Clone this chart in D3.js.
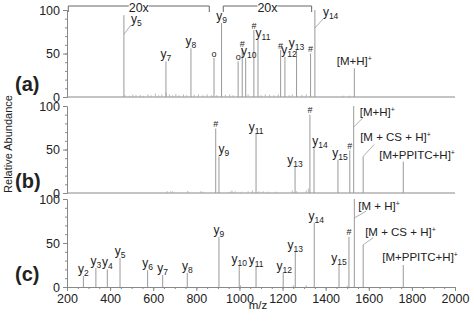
<!DOCTYPE html>
<html>
<head>
<meta charset="utf-8">
<script src="https://cdn.jsdelivr.net/npm/d3@7"></script>
<style>
  body { margin: 0; background: #fff; }
  text { font-family: Arial, "Liberation Sans", sans-serif; fill: #222; }
</style>
</head>
<body>
<svg id="chart" width="474" height="332"></svg>
<script>
// ---- data ----
const xTicks = [200, 400, 600, 800, 1000, 1200, 1400, 1600, 1800, 2000];
const xMinorTicks = d3.range(200, 2001, 50);
const yTicks = [0, 50, 100];
const yMinorTicks = [0, 10, 20, 30, 40, 50, 60, 70, 80, 90, 100];
const panelNames = ["(a)", "(b)", "(c)"];

// labelled peaks: [m/z, relative abundance, label]
const peaksA = [
  [464, 94, "y5"], [659, 41, "y7"], [775, 56, "y8"], [882, 45, "o"],
  [917, 85, "y9"], [994, 41, "o"], [1013, 56, "#"], [1029, 45, "y10"],
  [1067, 77, "#"], [1086, 66, "y11"], [1191, 54, "#"], [1211, 46, "y12"],
  [1265, 54, "y13"], [1330, 50, "#"], [1350, 100, "y14"], [1533, 33, "[M+H]+"]
];
const peaksB = [
  [890, 74, "#"], [905, 42, "y9"], [1077, 68, "y11"], [1258, 30, "y13"],
  [1327, 90, "#"], [1346, 52, "y14"], [1457, 38, "y15"], [1512, 49, "#"],
  [1530, 100, "[M+H]+"], [1574, 42, "[M + CS + H]+"], [1760, 36, "[M+PPITC+H]+"]
];
const peaksC = [
  [276, 12.5, "y2"], [334, 21.6, "y3"], [387, 20, "y4"], [446, 33, "y5"],
  [574, 19, "y6"], [644, 13.6, "y7"], [758, 16, "y8"], [905, 57, "y9"],
  [999, 24, "y10"], [1077, 23, "y11"], [1203, 16, "y12"], [1259, 40, "y13"],
  [1347, 73, "y14"], [1462, 25, "y15"], [1508, 57, "#"],
  [1533, 100, "[M + H]+"], [1574, 48, "[M + CS + H]+"], [1760, 25, "[M+PPITC+H]+"]
];

// small unlabelled background peaks: [m/z, relative abundance]
const noiseA = [
  [470, 2], [490, 1.5], [505, 3], [520, 2], [540, 2.5], [555, 1.5], [575, 3], [590, 2],
  [610, 4], [625, 2], [640, 3], [660, 5], [675, 3], [690, 2], [705, 3.5], [720, 2],
  [740, 3], [755, 2], [790, 2.5], [810, 3], [830, 2], [850, 3], [870, 2], [895, 2],
  [935, 2.5], [955, 3], [970, 2], [1040, 3], [1100, 2], [1120, 3], [1140, 2.5],
  [1160, 2], [1180, 3], [1230, 2], [1245, 3], [1290, 2.5], [1310, 3], [1480, 1.5], [1510, 1.5]
];
const noiseB = [
  [665, 2], [680, 2], [690, 2], [760, 2.5], [820, 2], [830, 1.5], [955, 1.5], [965, 3],
  [980, 2], [1010, 1.5], [1040, 2], [1060, 3], [1090, 2], [1110, 2], [1130, 1.5],
  [1170, 1.5], [1245, 3], [1265, 2], [1310, 3], [1320, 5]
];
const noiseC = [[1005, 2], [1250, 2], [1310, 2], [1500, 1.5]];

// "20x" zoom brackets in panel (a), m/z ranges
const zoomRanges = [[206, 860], [925, 1335]];

// ---- layout ----
const svg = d3.select("#chart");
const x = d3.scaleLinear().domain([200, 2000]).range([67, 455]);
const panelBox = [[10, 97], [106, 193], [199, 287]];
const panelBase = [91, 188, 281];
const allPeaks = [peaksA, peaksB, peaksC];
const allNoise = [noiseA, noiseB, noiseC];
const font = "Arial, 'Liberation Sans', sans-serif";

// nudges for labels placed beside their peak
const labelNudge = { "0|y11": 5, "0|y12": 4, "0|y10": 3, "1|y9": 5, "1|y14": 6, "1|y15": 2, "2|y14": 2, "2|y12": 1 };
// callouts with leader lines: label start (dx, dy) and leader from (x1,y1) to (x2,y2), relative to peak top
const callouts = {
  "0|y5": { dx: 7, dy: 8, l: [0, 19, 7, 10] },
  "0|y14": { dx: 8, dy: 6, l: [0, 18, 9, 8] },
  "1|[M+H]+": { dx: 6, dy: 10, l: [0, 21, 9, 12] },
  "1|[M + CS + H]+": { dx: -3, dy: -15, l: [0, 0, 11, -12] },
  "1|[M+PPITC+H]+": { dx: -24, dy: -3 },
  "2|[M + H]+": { dx: 4, dy: 11, l: [0, 19, 12, 12] },
  "2|[M + CS + H]+": { dx: 2, dy: -9, l: [0, 0, 10, -7] },
  "2|[M+PPITC+H]+": { dx: -21, dy: -4 }
};

function addLabel(g, str, px, py, anchor) {
  const t = g.append("text").attr("x", px).attr("y", py).attr("text-anchor", anchor);
  if (/^y\d+$/.test(str)) {
    t.append("tspan").style("font-size", "12px").text("y");
    t.append("tspan").attr("dy", 3).style("font-size", "8.5px").text(str.slice(1));
  } else if (str.startsWith("[")) {
    t.style("font-size", "11.5px");
    t.append("tspan").text(str.slice(0, -1));
    t.append("tspan").attr("dy", -4).style("font-size", "7px").text("+");
  } else {
    t.style("font-size", "9px").text(str);
  }
  return t;
}

allPeaks.forEach((peaks, i) => {
  const [top, bottom] = panelBox[i];
  const y = d3.scaleLinear().domain([0, 100]).range([bottom, top]);
  const g = svg.append("g");

  // y axis: minor + major ticks
  g.append("g").attr("transform", `translate(${x.range()[0]},0)`)
    .call(d3.axisLeft(y).tickValues(yMinorTicks).tickSize(2).tickSizeOuter(0).tickFormat(""))
    .call(a => a.selectAll("line,path").attr("stroke", "#888"));
  g.append("g").attr("transform", `translate(${x.range()[0]},0)`)
    .call(d3.axisLeft(y).tickValues(yTicks).tickSize(4).tickSizeOuter(0))
    .call(a => a.selectAll("line,path").attr("stroke", "#888"))
    .call(a => a.selectAll("text").style("font-size", "12.5px").attr("fill", "#222").style("font-family", font));

  // x axis
  if (i === 2) {
    g.append("g").attr("transform", `translate(0,${bottom})`)
      .call(d3.axisBottom(x).tickValues(xMinorTicks).tickSize(2).tickSizeOuter(0).tickFormat(""))
      .call(a => a.selectAll("line,path").attr("stroke", "#888"));
    g.append("g").attr("transform", `translate(0,${bottom})`)
      .call(d3.axisBottom(x).tickValues(xTicks).tickSize(4).tickSizeOuter(0).tickFormat(d3.format("d")))
      .call(a => a.selectAll("line,path").attr("stroke", "#888"))
      .call(a => a.selectAll("text").style("font-size", "12.5px").attr("fill", "#222").style("font-family", font));
  } else {
    g.append("line").attr("x1", x.range()[0]).attr("x2", x.range()[1])
      .attr("y1", bottom).attr("y2", bottom).attr("stroke", "#888");
  }

  // noise then labelled peaks
  g.selectAll(".noise").data(allNoise[i]).join("line").attr("class", "noise")
    .attr("x1", d => x(d[0])).attr("x2", d => x(d[0]))
    .attr("y1", y(0)).attr("y2", d => y(d[1]))
    .attr("stroke", "#aaa").attr("stroke-width", 0.8);
  g.selectAll(".peak").data(peaks).join("line").attr("class", "peak")
    .attr("x1", d => x(d[0])).attr("x2", d => x(d[0]))
    .attr("y1", y(0)).attr("y2", d => y(d[1]))
    .attr("stroke", "#999").attr("stroke-width", 1);

  peaks.forEach(d => {
    const px = x(d[0]), py = y(d[1]), key = `${i}|${d[2]}`;
    const c = callouts[key];
    if (c) {
      addLabel(g, d[2], px + c.dx, py + c.dy, "start");
      if (c.l) g.append("line").attr("x1", px + c.l[0]).attr("y1", py + c.l[1])
        .attr("x2", px + c.l[2]).attr("y2", py + c.l[3]).attr("stroke", "#999").attr("stroke-width", 0.8);
    } else {
      const gap = d[2] === "#" ? 1.5 : d[2] === "o" ? 1 : 3;
      addLabel(g, d[2], px + (labelNudge[key] || 0), py - gap, "middle");
    }
  });

  g.append("text").attr("x", 15).attr("y", panelBase[i])
    .style("font-size", "20px").style("font-weight", "bold").attr("fill", "#111")
    .text(panelNames[i]);
});

// "20x" brackets over panel (a)
const br = svg.append("g");
zoomRanges.forEach(r => {
  const x1 = x(r[0]), x2 = x(r[1]), by = 6;
  br.append("path").attr("d", `M${x1},${by + 6}V${by}H${x2}V${by + 6}`)
    .attr("fill", "none").attr("stroke", "#666").attr("stroke-width", 1);
  const cx = (x1 + x2) / 2;
  br.append("rect").attr("x", cx - 10).attr("y", 2).attr("width", 20).attr("height", 9).attr("fill", "#fff");
  br.append("text").attr("x", cx).attr("y", 12).attr("text-anchor", "middle")
    .style("font-size", "12.5px").text("20x");
});

// axis titles
svg.append("text").attr("transform", "translate(12,144) rotate(-90)")
  .attr("text-anchor", "middle").style("font-size", "11px").attr("fill", "#333")
  .text("Relative Abundance");
svg.append("text").attr("x", 258).attr("y", 309).attr("text-anchor", "middle")
  .style("font-size", "11.5px").text("m/z");
</script>
</body>
</html>
